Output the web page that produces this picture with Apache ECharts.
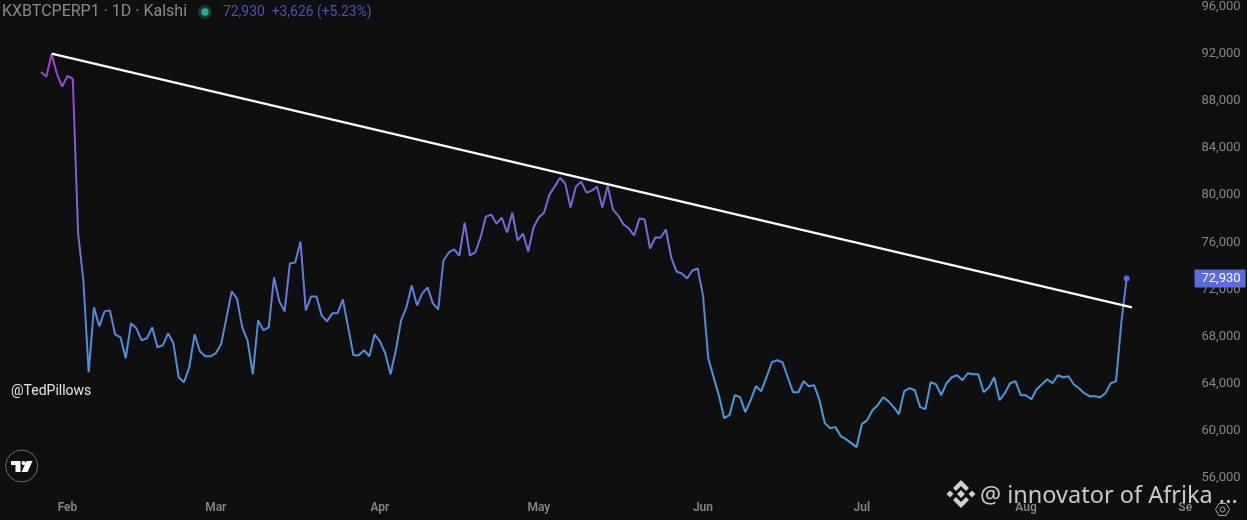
<!DOCTYPE html>
<html><head><meta charset="utf-8">
<style>html,body{margin:0;padding:0;background:#0f0f10}#c{width:1247px;height:520px}</style>
<script src="https://cdn.jsdelivr.net/npm/echarts@6/dist/echarts.min.js"></script>
</head><body><div id="c"></div>
<script>
const startDate = '2026-01-27';
const axisEndDate = '2026-09-01';
const closes = [90455,90032,91979,90286,89210,90116,89863,76825,72761,64972,70475,68867,70137,70221,68190,67936,66158,69121,68697,67682,67851,68783,67088,67258,68274,67427,64549,64125,65396,68190,66750,66327,66327,66581,67343,69544,71830,71237,68783,67682,64803,69374,68529,68783,73015,70984,70137,74201,74285,76063,70221,71407,71407,69798,69290,69968,69968,71153,68783,66412,66412,66835,66327,68190,67597,66581,64803,66835,69374,70475,72338,70645,71660,72168,70814,70306,74455,75132,75386,74878,77672,74878,75132,76402,78179,78349,77587,78095,76825,78518,76148,76740,75216,77248,78095,78518,80042,80719,81481,80973,78941,80719,81143,80211,80381,80719,78941,80804,78772,78264,77502,77163,76571,78010,77925,75470,76402,76402,77079,74708,73523,73354,72930,73608,73777,71491,66158,64549,63025,61078,61332,63025,62856,61586,62602,63787,63364,64549,65819,65988,65819,64549,63279,63279,64211,63787,63872,62602,60655,60231,60316,59554,59300,58962,58623,60570,60909,61755,62179,62856,62518,62010,61417,63364,63618,63449,62010,61840,64125,63956,63025,64041,64549,64718,64295,64888,64803,64803,63279,63702,64549,62602,63194,64041,64211,63025,63025,62687,63533,63956,64380,64041,64718,64549,64634,63956,63618,63194,62941,62941,62856,63194,64041,64211,69206,72930];
const trendStart = ['2026-01-29', 92000];
const trendEnd = ['2026-08-21', 70476];
const lastPrice = 72930;
const yTicks = {min:56000, max:96000, step:4000};
const monthNames = ['Jan','Feb','Mar','Apr','May','Jun','Jul','Aug','Se'];
const headerName = 'KXBTCPERP1 · 1D · Kalshi';
const headerQuote = '72,930  +3,626 (+5.23%)';

const categories = [];
for (let t = Date.parse(startDate+'T00:00:00Z'), e = Date.parse(axisEndDate+'T00:00:00Z'); t <= e; t += 864e5) {
  categories.push(new Date(t).toISOString().slice(0,10));
}
const seriesData = closes.map((v,i)=>[categories[i],v]);
const gray = '#858585';

const chart = echarts.init(document.getElementById('c'), null, {renderer:'canvas'});
chart.setOption({
  animation:false,
  backgroundColor:'#0f0f10',
  textStyle:{fontFamily:'Roboto'},
  grid:{left:41,right:56.8,top:5.5,bottom:42,containLabel:false},
  xAxis:{
    type:'category',data:categories,boundaryGap:false,
    axisLine:{show:false},axisTick:{show:false},splitLine:{show:false},
    axisLabel:{
      color:gray,fontFamily:'Roboto',fontSize:12,fontWeight:600,margin:24,
      showMinLabel:true,showMaxLabel:true,hideOverlap:false,
      interval:(i,v)=>v.slice(8)==='01',
      formatter:v=>{
        const m=+v.slice(5,7);
        return m===9?'{s|'+monthNames[m-1]+'}':monthNames[m-1];
      },
      rich:{s:{color:gray,fontFamily:'Roboto',fontSize:12,fontWeight:600,padding:[0,10,0,0]}}
    }
  },
  yAxis:{
    type:'value',position:'right',min:yTicks.min,max:yTicks.max,interval:yTicks.step,
    axisLine:{show:false},axisTick:{show:false},splitLine:{show:false},
    axisLabel:{color:gray,fontFamily:'Roboto',fontSize:13,margin:11.3,align:'left',
      formatter:v=>v.toLocaleString('en-US')},
    axisPointer:{
      show:true,status:'show',value:lastPrice,triggerOn:'none',snap:false,
      lineStyle:{opacity:0},
      label:{show:true,margin:4.3,backgroundColor:'#5b6be0',color:'#ffffff',fontFamily:'Roboto',fontSize:13,
        padding:[3,5,2,7],borderRadius:1,
        formatter:p=>Number(p.value).toLocaleString('en-US')}
    }
  },
  series:[
    {
      type:'line',data:seriesData,symbol:'none',smooth:false,silent:true,z:2,
      lineStyle:{width:2,color:new echarts.graphic.LinearGradient(0,0,0,1,[
        {offset:0,color:'#a83cd6'},
        {offset:0.1,color:'#9a48d8'},
        {offset:0.33,color:'#7b62d8'},
        {offset:0.58,color:'#5f7cdc'},
        {offset:0.76,color:'#4c90dc'},
        {offset:1,color:'#45a2d8'}
      ])},
      markPoint:{silent:true,animation:false,symbol:'circle',symbolSize:6,
        itemStyle:{color:'#5b6cd8'},label:{show:false},
        data:[{coord:[categories[closes.length-1],lastPrice]}]}
    },
    {
      type:'line',data:[trendStart,trendEnd],symbol:'none',silent:true,z:3,
      lineStyle:{width:2.5,color:'#ffffff'}
    }
  ],
  graphic:[
    {type:'text',left:2,top:4,z:20,style:{text:headerName,fill:'#8a8a8a',font:'16px Roboto'}},
    {type:'circle',shape:{cx:205,cy:12,r:7},z:20,style:{fill:'#0f3a36'}},
    {type:'circle',shape:{cx:205,cy:12,r:3.8},z:21,style:{fill:'#22ab94'}},
    {type:'text',left:223,top:6,z:20,style:{text:headerQuote,fill:'#4b55ad',font:'13.9px Roboto'}},
    {type:'text',left:11,top:384,z:20,style:{text:'@TedPillows',fill:'#e6e6e6',font:'14px Roboto'}},
    {type:'circle',shape:{cx:21.7,cy:466,r:16},z:20,style:{fill:'#0f0f10',stroke:'#6e6e6e',lineWidth:1}},
    {type:'polygon',shape:{points:[[11,461],[20.5,461],[20.5,472],[15.5,472],[15.5,465],[11,465]]},z:21,style:{fill:'#fff'}},
    {type:'circle',shape:{cx:23.6,cy:463,r:2},z:21,style:{fill:'#fff'}},
    {type:'polygon',shape:{points:[[26.5,461],[32.5,461],[27.5,472],[21.5,472]]},z:21,style:{fill:'#fff'}},
    {type:'polygon',shape:{points:[[961,490],[965,494],[961,498],[957,494]]},z:21,style:{fill:'#cfcfcf'}},
    {type:'polygon',shape:{points:[[950,490.5],[953.5,494],[950,497.5],[946.5,494]]},z:21,style:{fill:'#cfcfcf'}},
    {type:'polygon',shape:{points:[[972,490.5],[975.5,494],[972,497.5],[968.5,494]]},z:21,style:{fill:'#cfcfcf'}},
    {type:'polygon',shape:{points:[[961,480],[969,488],[966,491],[961,486],[956,491],[953,488]]},z:21,style:{fill:'#cfcfcf'}},
    {type:'polygon',shape:{points:[[961,508],[969,500],[966,497],[961,502],[956,497],[953,500]]},z:21,style:{fill:'#cfcfcf'}},
    {type:'text',left:980,top:484,z:21,style:{text:'@ innovator of Afrika ...',fill:'#c9c9c9',font:'23.5px "Noto Sans"'}},
    {type:'polygon',shape:{points:[[1215.5,509.5],[1219,503.5],[1226,503.5],[1229.5,509.5],[1226,515.5],[1219,515.5]]},z:21,style:{fill:'none',stroke:'#a8a8a8',lineWidth:1}},
    {type:'circle',shape:{cx:1222.5,cy:509.5,r:2.5},z:21,style:{fill:'none',stroke:'#a8a8a8',lineWidth:1}}
  ]
});
</script></body></html>
